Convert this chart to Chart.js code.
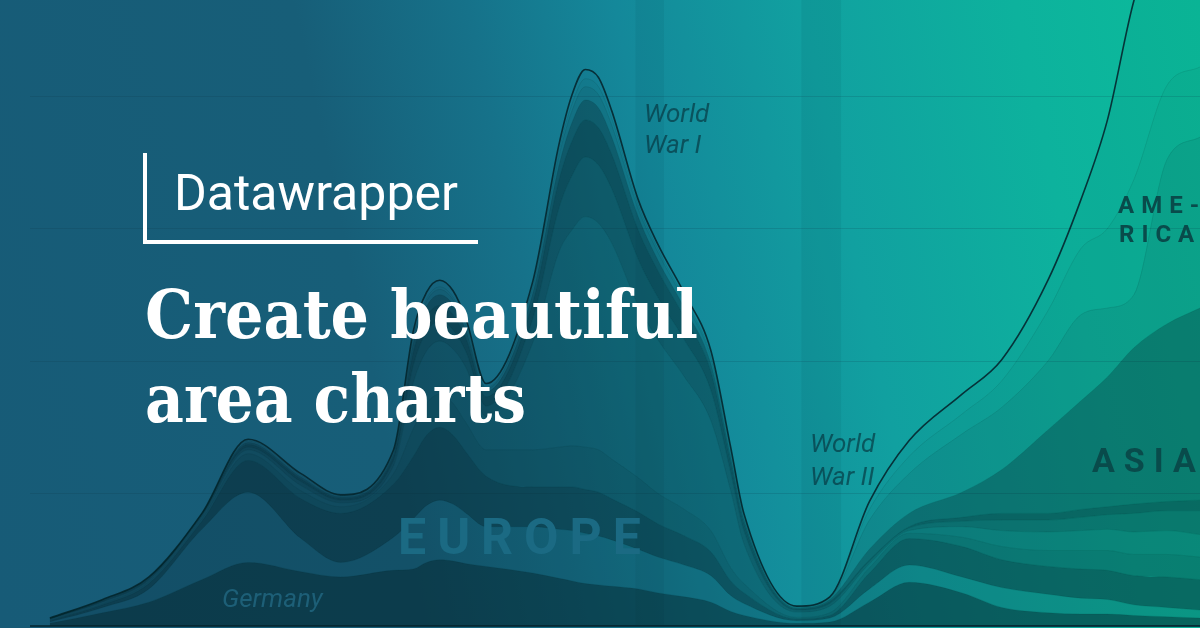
<!DOCTYPE html>
<html>
<head>
<meta charset="utf-8">
<script src="https://cdn.jsdelivr.net/npm/chart.js@4.4.1/dist/chart.umd.min.js"></script>
<style>
html, body { margin: 0; padding: 0; }
body { width: 1200px; height: 628px; overflow: hidden; }
#wrap {
  position: relative; width: 1200px; height: 628px; overflow: hidden;
  background: linear-gradient(78deg, #175b77 0%, #175e78 32%, #16728a 45%, #14889a 56%, #11a0a0 70%, #0db29d 86%, #0bbb9a 100%);
}
#areaChart { position: absolute; left: 0; top: 0; }
.lbl { position: absolute; white-space: nowrap; line-height: 1; }
.bracket {
  position: absolute; left: 143px; top: 153px; width: 331px; height: 87px;
  border-left: 4px solid #fff; border-bottom: 4px solid #fff;
}
.brand { font-family: Roboto, sans-serif; font-size: 50px; color: #fff; }
.title { font-family: "DejaVu Serif", serif; font-weight: bold; font-size: 67px; color: #fff; transform-origin: 0 0; }
.war { font-family: Roboto, sans-serif; font-style: italic; font-size: 26px; color: rgba(5,45,55,0.62); }
.region { font-family: Roboto, sans-serif; font-weight: bold; color: #094b4b; }
</style>
</head>
<body>
<div id="wrap">
  <canvas id="areaChart" width="1200" height="628"></canvas>

  <div class="lbl war" data-base="122" style="left:644px">World</div>
  <div class="lbl war" data-base="153" style="left:644px">War I</div>
  <div class="lbl war" data-base="452" style="left:810px">World</div>
  <div class="lbl war" data-base="485" style="left:810px">War II</div>

  <div class="lbl region" data-base="554" style="left:398px;font-size:50px;letter-spacing:11px;color:#1b6a83">EUROPE</div>
  <div class="lbl war" data-base="607" style="left:222px;color:#1d5f77">Germany</div>
  <div class="lbl region" data-base="213" style="left:1118px;font-size:24px;letter-spacing:7px">AME-</div>
  <div class="lbl region" data-base="242" style="left:1119px;font-size:24px;letter-spacing:7px">RICA</div>
  <div class="lbl region" data-base="472" style="left:1092px;font-size:34px;letter-spacing:9px">ASIA</div>

  <div class="bracket"></div>
  <div class="lbl brand" data-base="210" style="left:174px">Datawrapper</div>
  <div class="lbl title" data-base="338" data-w="553" style="left:145px">Create beautiful</div>
  <div class="lbl title" data-base="422" data-w="381" style="left:145px">area charts</div>
</div>

<script>
// years of the samples
const years = [1826, 1834, 1841, 1849, 1856, 1864, 1870, 1878, 1881, 1883, 1885, 1887, 1889, 1892, 1899, 1903, 1905, 1907, 1909, 1911, 1915, 1918, 1922, 1926, 1929, 1931, 1939, 1944, 1950, 1956, 1964, 1970, 1977, 1982, 1986, 1990, 1995, 2000];

// stacked layers, bottom to top
const germany      = [2, 10, 18, 35, 48, 41, 37, 42, 43, 48, 50, 49, 47, 45, 40, 36, 34, 32, 31, 30, 28, 25, 22, 18, 11, 8, 2, 3, 18, 33, 25, 14, 10, 9, 9, 8, 7, 6];
const france       = [1, 4, 10, 38, 53, 25, 11, 25, 38, 43, 45, 43, 38, 30, 35, 37, 38, 38, 37, 35, 30, 27, 24, 20, 12, 9, 2, 3, 10, 13, 12, 15, 14, 12, 11, 8, 7, 6];
const uk           = [1, 2, 4, 6, 24, 30, 37, 40, 47, 53, 55, 52, 46, 38, 30, 32, 33, 33, 33, 31, 28, 25, 22, 18, 11, 8, 1.5, 2, 12, 20, 23, 21, 21, 22, 22, 22, 23, 23];
const italy        = [0.5, 1, 1.5, 2, 5, 6, 5, 8, 21, 24, 25, 24, 22, 20, 28, 30, 31, 32, 32, 30, 26, 23, 20, 16, 10, 7, 1, 2, 4, 4, 7, 10, 12, 14, 15, 16, 17, 17];
const austria      = [0.5, 1, 1, 1.5, 3, 4, 3, 6, 35, 39.6, 40, 41, 41.5, 25, 80, 147, 163, 174, 171, 163, 130, 116, 100, 83, 58, 30, 4, 5, 3, 2, 8, 12, 14, 15, 16, 17, 18, 17];
const russia       = [0.3, 0.5, 0.8, 1, 2, 3, 2, 4, 13, 14.5, 15, 14.5, 12, 8, 18, 33, 41, 45, 44, 41, 35, 32, 28, 23, 14, 10, 1.5, 2, 2, 2, 4, 8, 9, 10, 11, 14, 15, 18];
const netherlands  = [0.2, 0.5, 0.6, 0.6, 2, 2, 1.5, 3, 10, 11.5, 12, 11.5, 10, 7, 12, 21, 26, 28, 28, 26, 22, 20, 17, 14, 8, 6, 1, 1.5, 1, 1, 3, 5, 5, 6, 6, 7, 7, 8];
const asia         = [0.2, 0.4, 0.5, 0.4, 1.5, 1.5, 1, 2, 7, 7.7, 8, 7.5, 6, 4, 7, 11, 14, 15, 15, 13, 10, 8, 7, 6, 4, 3, 0.8, 1.5, 8, 10, 19, 33, 63, 82, 98, 118, 134, 145];
const northAmerica = [0.1, 0.2, 0.2, 0.2, 1, 1, 0.7, 1, 3.4, 3.9, 4, 3.8, 3, 2, 4, 7, 9, 10, 10, 9, 6, 6, 5, 4, 3, 2, 0.6, 1, 22, 30, 44, 47, 52, 65, 52, 40, 124, 129];
const southAmerica = [0.1, 0.2, 0.2, 0.1, 0.5, 0.5, 0.3, 0.5, 1.7, 1.9, 2, 1.9, 1.5, 1, 2, 4, 5, 6, 6, 5, 3, 2.5, 2, 2, 2, 1, 0.3, 0.5, 8, 13, 15, 20, 38, 50, 60, 87, 56, 53];
const oceania      = [0.1, 0.2, 0.2, 0.2, 1, 1, 0.5, 1.5, 3.9, 4.9, 5, 4.8, 4, 3, 3, 5, 7, 7, 7, 6, 4, 3.5, 4, 4, 2, 1, 0.3, 0.5, 6, 12, 15, 16, 23, 37, 82, 135, 132, 158];

const layerNames  = ['Germany', 'France', 'United Kingdom', 'Italy', 'Austria', 'Russia', 'Netherlands', 'Asia', 'North America', 'South America', 'Oceania'];
const layerValues = [germany, france, uk, italy, austria, russia, netherlands, asia, northAmerica, southAmerica, oceania];
const layerAlpha  = [0.55, 0.2, 0.5, 0.36, 0.3, 0.4, 0.5, 0.38, 0.15, 0.08, 0.04];

const warStart = [1914.6, 1939.7];
const warEnd   = [1918.9, 1945.7];

const datasets = layerNames.map((name, i) => {
  const top = i === layerNames.length - 1;
  return {
    label: name,
    data: years.map((y, j) => ({ x: y, y: layerValues[i][j] })),
    cubicInterpolationMode: 'monotone',
    backgroundColor: 'rgba(4,32,40,' + layerAlpha[i] + ')',
    borderColor: top ? 'rgba(5,38,46,0.9)' : 'rgba(4,32,40,0.14)',
    borderWidth: top ? 1.6 : 0.8,
    pointRadius: 0,
    fill: i === 0 ? 'origin' : '-1'
  };
});

const warBands = {
  id: 'warBands',
  beforeDraw(chart) {
    const { ctx, chartArea, scales } = chart;
    ctx.save();
    ctx.fillStyle = 'rgba(0,40,60,0.07)';
    warStart.forEach((s, i) => {
      const x0 = scales.x.getPixelForValue(s);
      const x1 = scales.x.getPixelForValue(warEnd[i]);
      ctx.fillRect(x0, chartArea.top, x1 - x0, chartArea.bottom - chartArea.top);
    });
    ctx.restore();
  }
};

new Chart(document.getElementById('areaChart').getContext('2d'), {
  type: 'line',
  data: { datasets: datasets },
  plugins: [warBands],
  options: {
    responsive: false,
    animation: false,
    devicePixelRatio: 1,
    layout: { padding: { left: 30, right: 0, top: 0, bottom: 2 } },
    scales: {
      x: { type: 'linear', min: 1823, max: 2000, display: false },
      y: {
        stacked: true,
        min: 0,
        max: 472.5,
        afterFit: s => { s.width = 0; },
        afterBuildTicks: s => { s.ticks = s.ticks.filter(t => t.value % 100 === 0); },
        ticks: { display: false, stepSize: 100 },
        border: { display: false },
        grid: {
          drawTicks: false,
          color: c => c.tick.value === 0 ? 'rgba(8,45,58,0.9)' : 'rgba(10,50,70,0.16)',
          lineWidth: c => c.tick.value === 0 ? 2 : 1
        }
      }
    },
    plugins: {
      legend: { display: false },
      tooltip: { enabled: false },
      filler: { drawTime: 'beforeDatasetsDraw' }
    }
  }
});

// put every label on its baseline, squeeze the title to its width
function placeLabels() {
  document.querySelectorAll('.lbl').forEach(el => {
    el.style.transform = '';
    const m = document.createElement('span');
    m.style.display = 'inline-block';
    m.style.width = '0';
    m.style.height = '0';
    el.appendChild(m);
    const off = m.offsetTop;
    el.removeChild(m);
    el.style.top = (+el.dataset.base - off) + 'px';
    if (el.dataset.w) {
      const w = el.getBoundingClientRect().width;
      el.style.transform = 'scaleX(' + (+el.dataset.w / w) + ')';
    }
  });
}
placeLabels();
document.fonts.ready.then(placeLabels);
</script>
</body>
</html>
